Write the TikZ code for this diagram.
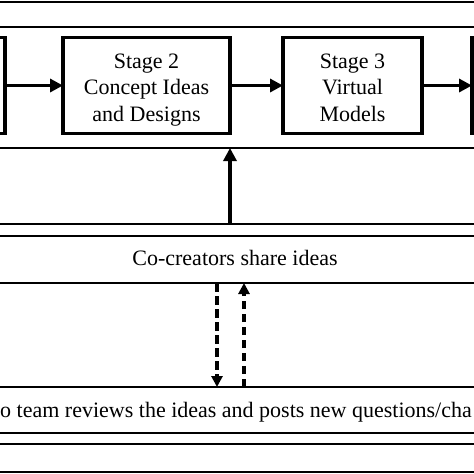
\documentclass[tikz,border=0pt]{standalone}
\usepackage{fontspec}
\setmainfont{Liberation Serif}
\usetikzlibrary{arrows.meta}
\begin{document}
\begin{tikzpicture}[x=1pt,y=-1pt,
  band/.style={draw,line width=2.5pt,minimum width=560pt,inner sep=0pt,outer sep=0pt},
  stagebox/.style={draw,line width=3.2pt,inner sep=0pt,outer sep=0pt},
  stagetxt/.style={align=center,inner sep=0pt,anchor=north,font=\fontsize{22}{26.8}\selectfont},
  arr/.style={line width=3.3pt,-{Triangle[length=13pt,width=13pt]}},
  dasharr/.style={line width=3.4pt,dash pattern=on 8.5pt off 4.5pt,-{Triangle[length=11pt,width=11pt]}},
  lbl/.style={font=\fontsize{22}{26.8}\selectfont,inner sep=0pt}]
\useasboundingbox (0,0) rectangle (474,474);
\clip (0,0) rectangle (474,474);
% horizontal bands
\node[band,minimum height=25pt]  (top)    at (237,14.5) {};
\node[band,minimum height=121pt] (lane1)  at (237,87.5) {};
\node[band,minimum height=76pt]  (lane2)  at (237,186) {};
\node[band,minimum height=47pt]  (share)  at (237,259.5) {};
\node[band,minimum height=104pt] (mid)    at (237,335) {};
\node[band,minimum height=46pt]  (review) at (237,410) {};
\node[band,minimum height=28pt]  (bottom) at (237,458) {};
% stage boxes
\node[stagebox,minimum width=155pt,minimum height=96pt] (s1) at (-72.5,85.5) {};
\node[stagebox,minimum width=167pt,minimum height=96pt] (s2) at (146.5,85.5) {};
\node[stagebox,minimum width=139pt,minimum height=96pt] (s3) at (352.5,85.5) {};
\node[stagebox,minimum width=148pt,minimum height=96pt] (s4) at (546,85.5) {};
\node[stagetxt] (s2t) at (146.5,53.3) {Stage 2\\Concept Ideas\\and Designs};
\node[stagetxt] (s3t) at (352.5,53.3) {Stage 3\\Virtual\\Models};
% texts
\node[lbl,anchor=base] (sharetxt) at (235,265) {Co-creators share ideas};
\node[lbl,anchor=base west] (reviewtxt) at (0,417) {o team reviews the ideas and posts new questions/cha};
% arrows
\draw[arr] (s1) -- (s2);
\draw[arr] (s2) -- (s3);
\draw[arr] (s3) -- (s4);
\draw[arr] (lane2.south -| s2.east) -- (lane2.north -| s2.east);
\coordinate (dA) at (217,0);
\coordinate (dB) at (244,0);
\draw[dasharr] (mid.north -| dA) -- (mid.south -| dA);
\draw[dasharr] (mid.south -| dB) -- (mid.north -| dB);
\end{tikzpicture}
\end{document}
